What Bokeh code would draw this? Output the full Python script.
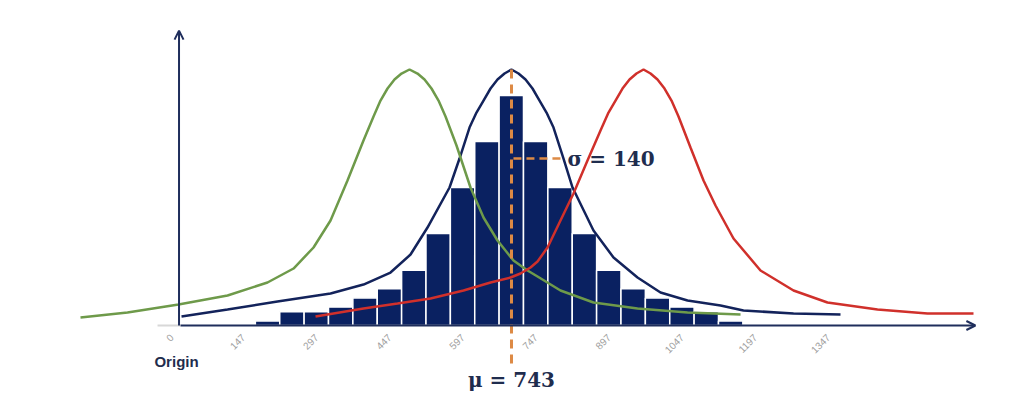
import math
from bokeh.plotting import figure
from bokeh.models import Arrow, OpenHead, FixedTicker
from bokeh.core.properties import value
from bokeh.embed import file_html
from bokeh.resources import INLINE

# ---------------- data (axis units) ----------------
tick_values = [0, 147, 297, 447, 597, 747, 897, 1047, 1197, 1347]

bin_left = [172, 222, 272, 322, 372, 422, 472, 522, 572, 622,
            672, 722, 772, 822, 872, 922, 972, 1022, 1072, 1122]
bin_right = [222, 272, 322, 372, 422, 472, 522, 572, 622, 672,
             722, 772, 822, 872, 922, 972, 1022, 1072, 1122, 1172]
counts = [1, 3, 3, 4, 6, 8, 12, 20, 30, 40, 50, 40, 30, 20, 12, 8, 6, 4, 3, 1]

blue_x = [20.5, 114.9, 217.4, 326.2, 393.8, 449.2, 490.3, 525.1, 570.3, 590.8,
          611.3, 625.6, 640.0, 654.4, 668.7, 683.1, 697.4, 711.8, 726.2, 740.5,
          754.9, 769.2, 783.6, 804.1, 822.6, 865.6, 906.7, 955.9, 1003.1, 1058.5,
          1126.2, 1173.3, 1275.9, 1372.3]
blue_y = [1.96, 3.48, 5.22, 6.96, 8.91, 11.52, 15.43, 21.30, 30.0, 36.30,
          43.04, 46.30, 48.91, 51.52, 53.48, 54.78, 55.65, 54.78, 53.48, 51.52,
          48.91, 46.30, 43.04, 36.30, 30.0, 20.65, 14.78, 10.43, 7.17, 5.43,
          4.35, 3.26, 2.61, 2.39]

green_x = [-186.7, -90.3, 14.4, 114.9, 196.9, 250.3, 291.3, 326.2, 361.0, 393.8,
           414.4, 428.7, 443.1, 457.4, 471.8, 488.2, 504.6, 519.0, 533.3, 547.7,
           562.1, 584.6, 613.3, 640.0, 668.7, 701.5, 730.3, 750.8, 797.9, 865.6,
           955.9, 1058.5, 1167.2]
green_y = [1.74, 2.83, 4.57, 6.52, 9.35, 12.39, 16.96, 22.83, 31.52, 40.22,
           45.43, 48.91, 51.52, 53.48, 54.78, 55.65, 54.78, 53.48, 51.52, 48.91,
           45.43, 39.13, 30.0, 23.48, 18.48, 14.13, 11.96, 10.65, 7.61, 5.0,
           3.70, 2.83, 2.39]

red_x = [295.4, 393.8, 463.6, 531.3, 599.0, 654.4, 695.4, 715.9, 736.4, 750.8,
         771.3, 797.9, 824.6, 853.3, 880.0, 896.4, 910.8, 925.1, 939.5, 953.8,
         968.2, 982.6, 996.9, 1011.3, 1025.6, 1040.0, 1064.6, 1091.3, 1115.9, 1152.8,
         1208.2, 1275.9, 1345.6, 1448.2, 1550.8, 1645.1]
red_y = [1.96, 3.70, 4.78, 5.87, 7.61, 9.35, 10.43, 11.30, 12.61, 13.91,
         16.96, 22.83, 28.70, 35.87, 42.39, 46.30, 48.91, 51.52, 53.48, 54.78,
         55.65, 54.78, 53.48, 51.52, 48.91, 45.43, 38.70, 31.52, 26.09, 18.91,
         11.96, 7.61, 5.0, 3.48, 2.61, 2.61]

mu_pos = 697.4
mu_label = "\u03bc = 743"
sigma_end = 808.2
sigma_level = 36.3
sigma_label = "\u03c3 = 140"

# ---------------- styles ----------------
NAVY_BAR = "#0A2161"
NAVY_LINE = "#13235B"
GREEN = "#6E9A4A"
RED = "#D0302B"
ORANGE = "#DD8A45"
AXIS = "#1F2E5C"
TEXT = "#1F2D4E"

p = figure(width=1008, height=396, x_range=(-350.8, 1716.9), y_range=(-15.43, 70.65),
           output_backend="svg", toolbar_location=None, min_border=0)
p.outline_line_color = None
p.grid.visible = False
p.yaxis.visible = False
p.background_fill_color = "white"

xa = p.xaxis[0]
xa.fixed_location = 0
xa.ticker = FixedTicker(ticks=tick_values)
xa.axis_line_color = None
xa.major_tick_line_color = None
xa.minor_tick_line_color = None
xa.major_label_orientation = math.pi / 4
xa.major_label_text_color = "#A0A0A0"
xa.major_label_text_font_size = "10px"
xa.major_label_text_font = "Liberation Sans"
xa.major_label_standoff = 4

# faint start of x-axis
p.segment(x0=[-28.7], y0=[0], x1=[18.5], y1=[0], line_color="#D8D8D8", line_width=2)

# bars
p.quad(left=bin_left, right=bin_right, bottom=0, top=counts,
       fill_color=NAVY_BAR, line_color="white", line_width=1.5)

# curves
p.line(blue_x, blue_y, line_color=NAVY_LINE, line_width=2.5)
p.line(green_x, green_y, line_color=GREEN, line_width=2.5)
p.line(red_x, red_y, line_color=RED, line_width=2.5)

# axes arrows
p.add_layout(Arrow(end=OpenHead(size=9, line_color=AXIS, line_width=2),
                   x_start=18.5, y_start=0, x_end=1649.0, y_end=0,
                   line_color=AXIS, line_width=2))
p.add_layout(Arrow(end=OpenHead(size=9, line_color=AXIS, line_width=2),
                   x_start=15.4, y_start=0, x_end=15.4, y_end=64.1,
                   line_color=AXIS, line_width=2))

# mean and sigma dashed lines
p.segment(x0=[mu_pos], y0=[55.65], x1=[mu_pos], y1=[-8.7],
          line_color=ORANGE, line_width=3, line_dash="9 6")
p.segment(x0=[mu_pos + 4], y0=[sigma_level], x1=[sigma_end], y1=[sigma_level],
          line_color=ORANGE, line_width=2.5, line_dash="8 5")

p.text(x=[sigma_end + 4], y=[sigma_level], text=[sigma_label],
       text_font=value("DejaVu Serif"), text_font_style="bold", text_font_size="20px",
       text_align="left", text_baseline="middle", text_color=TEXT)
p.text(x=[mu_pos], y=[-11.74], text=[mu_label],
       text_font=value("DejaVu Serif"), text_font_style="bold", text_font_size="20px",
       text_align="center", text_baseline="middle", text_color=TEXT)
p.text(x=[10.3], y=[-7.83], text=["Origin"],
       text_font=value("Liberation Sans"), text_font_style="bold", text_font_size="15px",
       text_align="center", text_baseline="middle", text_color=TEXT)

open("out.html", "w").write(file_html(p, INLINE))
